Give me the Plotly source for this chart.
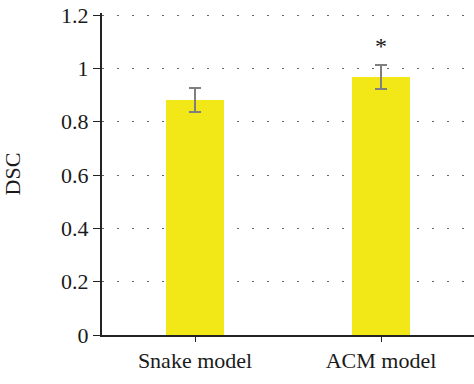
import plotly.graph_objects as go

categories = ["Snake model", "ACM model"]
dsc_mean = [0.881, 0.969]
dsc_err = [0.045, 0.045]
significance = ["", "*"]
y_ticks = [0, 0.2, 0.4, 0.6, 0.8, 1.0, 1.2]
y_tick_labels = ["0", "0.2", "0.4", "0.6", "0.8", "1", "1.2"]

font_family = "Liberation Serif, DejaVu Serif, serif"
text_color = "#1a1a1a"

fig = go.Figure()
fig.add_trace(go.Bar(
    x=categories,
    y=dsc_mean,
    width=0.315,
    marker=dict(color="#F2E817", line=dict(width=0)),
    error_y=dict(type="data", array=dsc_err, visible=True,
                 color="#7f7f7f", thickness=2, width=6),
))

for cat, m, e, s in zip(categories, dsc_mean, dsc_err, significance):
    if s:
        fig.add_annotation(x=cat, y=m + e, text=s, showarrow=False,
                           yanchor="bottom", yshift=4,
                           font=dict(family=font_family, size=24, color=text_color))

fig.update_layout(
    width=474, height=384,
    margin=dict(l=102, r=0, t=13, b=49),
    paper_bgcolor="white", plot_bgcolor="white",
    showlegend=False,
    font=dict(family=font_family, size=22, color=text_color),
    bargap=0,
)
fig.update_xaxes(
    range=[-0.5, 1.5],
    showline=True, linecolor="#222", linewidth=2,
    ticks="outside", ticklen=5, tickwidth=1, tickcolor="#222",
    showgrid=False,
    tickfont=dict(family=font_family, size=22, color=text_color),
)
fig.update_yaxes(
    range=[0, 1.208],
    tickvals=y_ticks, ticktext=y_tick_labels,
    showline=True, linecolor="#222", linewidth=2,
    ticks="outside", ticklen=7, tickwidth=1, tickcolor="#222",
    showgrid=True, gridcolor="#666", gridwidth=1, griddash="2px,13px",
    zeroline=False,
    title=dict(text="DSC", font=dict(family=font_family, size=22, color=text_color), standoff=34),
    tickfont=dict(family=font_family, size=22, color=text_color),
)

fig.write_html("out.html", config={"displayModeBar": False},
               post_script="document.body.style.margin='0px';document.body.style.padding='0px';")
